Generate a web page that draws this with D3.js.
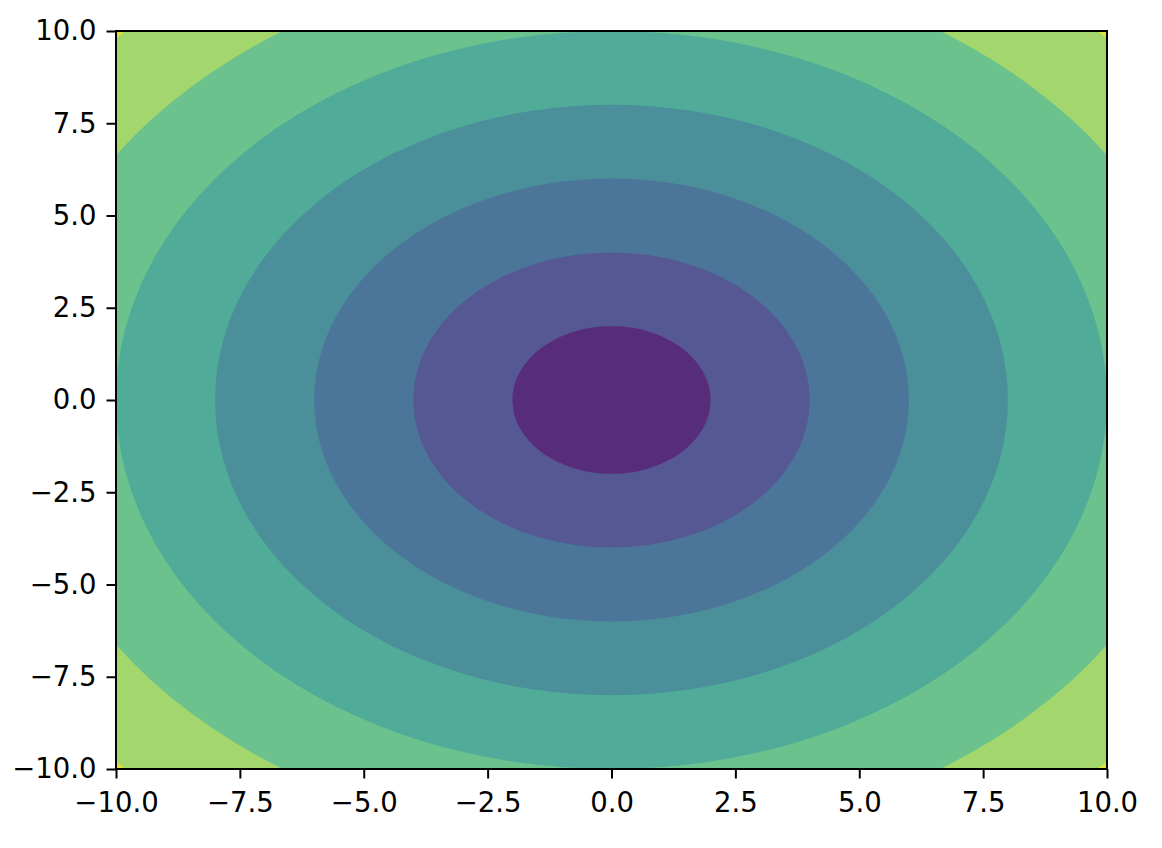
<!DOCTYPE html>
<html>
<head>
<meta charset="utf-8">
<script src="https://cdn.jsdelivr.net/npm/d3@7"></script>
<style>
  html, body { margin: 0; padding: 0; background: #fff; }
  svg text { font-family: "DejaVu Sans", sans-serif; }
</style>
</head>
<body>
<div class="svgContainer"></div>
<script>
// contour levels (radius of each boundary) and the fill colour of each band between them
const LEVELS = [0, 2, 4, 6, 8, 10, 12, 14, 16];
const BAND_COLORS = ['#572c7b', '#555893', '#4b769a', '#4a8f9a', '#50ab99', '#6cc28c', '#a3d76d', '#dde23c'];
const X_DOMAIN = [-10, 10];
const Y_DOMAIN = [-10, 10];
const X_TICKS = [-10, -7.5, -5, -2.5, 0, 2.5, 5, 7.5, 10];
const Y_TICKS = [-10, -7.5, -5, -2.5, 0, 2.5, 5, 7.5, 10];

const WIDTH = 1162;
const HEIGHT = 848;
const MARGIN = { top: 31, right: 55, bottom: 79, left: 116 };
const PLOT_W = WIDTH - MARGIN.left - MARGIN.right;
const PLOT_H = HEIGHT - MARGIN.top - MARGIN.bottom;

const svg = d3.select('.svgContainer')
  .append('svg')
  .attr('width', WIDTH)
  .attr('height', HEIGHT);

const x = d3.scaleLinear().domain(X_DOMAIN).range([MARGIN.left, MARGIN.left + PLOT_W]);
const y = d3.scaleLinear().domain(Y_DOMAIN).range([MARGIN.top + PLOT_H, MARGIN.top]);

svg.append('clipPath')
  .attr('id', 'plotClip')
  .append('rect')
  .attr('x', MARGIN.left)
  .attr('y', MARGIN.top)
  .attr('width', PLOT_W)
  .attr('height', PLOT_H);

// filled bands: draw outer level first, inner ones on top
const bands = BAND_COLORS.map((c, i) => ({ color: c, outer: LEVELS[i + 1] })).reverse();
svg.append('g')
  .attr('clip-path', 'url(#plotClip)')
  .selectAll('ellipse')
  .data(bands)
  .enter()
  .append('ellipse')
  .attr('cx', x(0))
  .attr('cy', y(0))
  .attr('rx', d => x(d.outer) - x(0))
  .attr('ry', d => y(0) - y(d.outer))
  .attr('fill', d => d.color);

// axes
const fmt = v => d3.format('.1f')(v).replace('-', '\u2212');
const TICK_LEN = 9.5;

const xAxis = svg.append('g')
  .attr('transform', `translate(0, ${MARGIN.top + PLOT_H})`)
  .call(d3.axisBottom(x).tickValues(X_TICKS).tickFormat(fmt).tickSize(TICK_LEN).tickPadding(13.5));

const yAxis = svg.append('g')
  .attr('transform', `translate(${MARGIN.left}, 0)`)
  .call(d3.axisLeft(y).tickValues(Y_TICKS).tickFormat(fmt).tickSize(TICK_LEN).tickPadding(10));

[xAxis, yAxis].forEach(ax => {
  ax.select('.domain').remove();
  ax.selectAll('line').attr('stroke', '#000').attr('stroke-width', 2);
  ax.selectAll('text')
    .attr('fill', '#000')
    .style('font-size', '27.5px')
    .style('font-family', '"DejaVu Sans", sans-serif');
});

// frame
svg.append('rect')
  .attr('x', MARGIN.left)
  .attr('y', MARGIN.top)
  .attr('width', PLOT_W)
  .attr('height', PLOT_H)
  .attr('fill', 'none')
  .attr('stroke', '#000')
  .attr('stroke-width', 2);
</script>
</body>
</html>
